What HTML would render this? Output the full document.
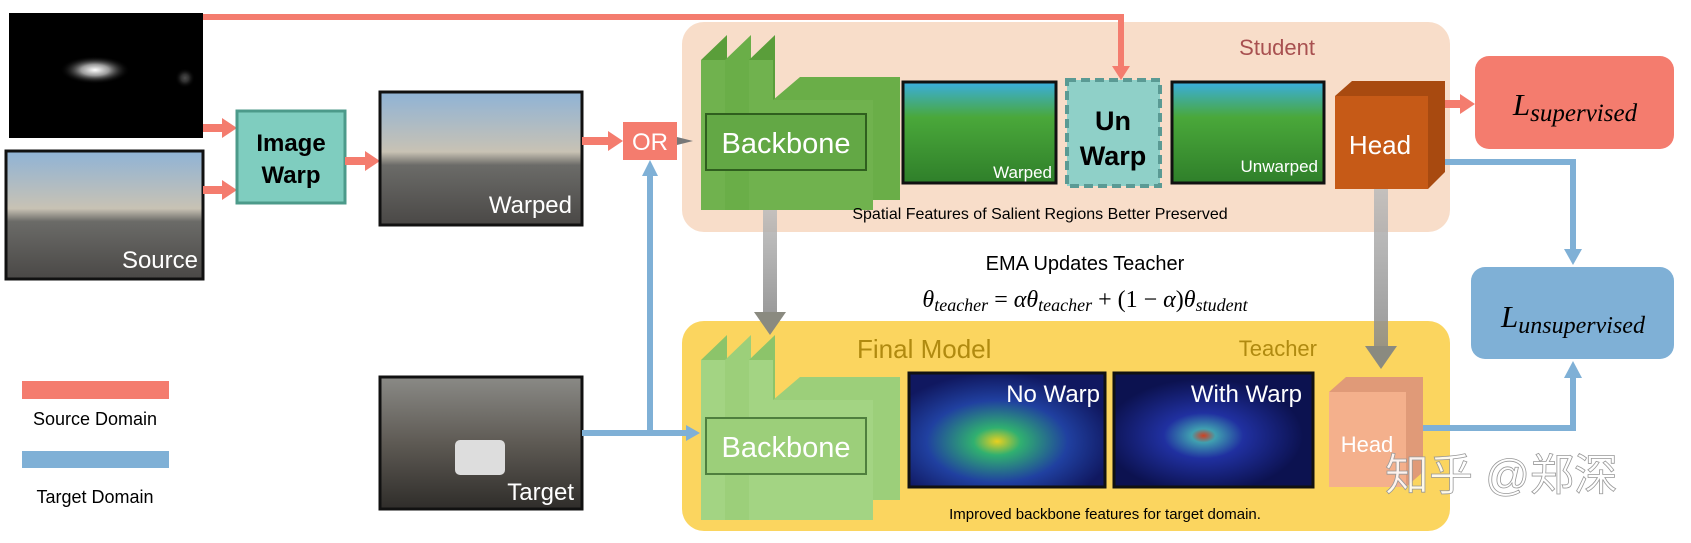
<!DOCTYPE html>
<html><head><meta charset="utf-8"><style>
body{margin:0;background:#fff}
svg{display:block;font-family:"Liberation Sans",sans-serif}
</style></head><body>
<svg width="1691" height="543" viewBox="0 0 1691 543" xmlns="http://www.w3.org/2000/svg">
<defs>
<linearGradient id="sky" x1="0" y1="0" x2="0" y2="1"><stop offset="0" stop-color="#8fb3d6"/><stop offset="0.45" stop-color="#c8c2b4"/><stop offset="0.55" stop-color="#6b6b68"/><stop offset="1" stop-color="#4a4846"/></linearGradient>
<linearGradient id="rain" x1="0" y1="0" x2="0" y2="1"><stop offset="0" stop-color="#8a8a86"/><stop offset="0.5" stop-color="#5e5a54"/><stop offset="1" stop-color="#2f2d2a"/></linearGradient>
<linearGradient id="seg" x1="0" y1="0" x2="0" y2="1"><stop offset="0" stop-color="#3aaee0"/><stop offset="0.35" stop-color="#4aa83a"/><stop offset="1" stop-color="#2f7f2a"/></linearGradient>
<radialGradient id="heat1" cx="0.45" cy="0.6" r="0.6"><stop offset="0" stop-color="#e8d020"/><stop offset="0.2" stop-color="#30b070"/><stop offset="0.6" stop-color="#2040a0"/><stop offset="1" stop-color="#101860"/></radialGradient>
<radialGradient id="heat2" cx="0.45" cy="0.55" r="0.5"><stop offset="0" stop-color="#d04020"/><stop offset="0.12" stop-color="#40a0b0"/><stop offset="0.4" stop-color="#2030a0"/><stop offset="1" stop-color="#0c1250"/></radialGradient>
<radialGradient id="blob" cx="0.5" cy="0.5" r="0.5"><stop offset="0" stop-color="#fff"/><stop offset="0.4" stop-color="#999"/><stop offset="1" stop-color="#000" stop-opacity="0"/></radialGradient>
<linearGradient id="gv" x1="0" y1="0" x2="0" y2="1"><stop offset="0" stop-color="#bbb"/><stop offset="1" stop-color="#888"/></linearGradient>
</defs>

<rect x="682" y="22" width="768" height="210" rx="22" fill="#f8ddc9"/>
<rect x="682" y="321" width="768" height="210" rx="22" fill="#fbd55f"/>

<polyline points="203,17 1121,17 1121,70" fill="none" stroke="#f47c6e" stroke-width="6"/>
<polygon points="1112,66 1130,66 1121,80" fill="#f47c6e"/>

<rect x="9" y="13" width="194" height="125" fill="#000"/>
<ellipse cx="95" cy="70" rx="35" ry="14" fill="url(#blob)"/>
<ellipse cx="185" cy="78" rx="10" ry="10" fill="url(#blob)" opacity="0.3"/>

<rect x="6" y="151" width="197" height="128" fill="url(#sky)" stroke="#111" stroke-width="3"/>
<text x="198" y="268" font-size="24" fill="#fff" text-anchor="end">Source</text>

<rect x="203" y="124" width="22" height="8" fill="#f47c6e"/><polygon points="222,118 237,128 222,138" fill="#f47c6e"/>
<rect x="203" y="186" width="22" height="8" fill="#f47c6e"/><polygon points="222,180 237,190 222,200" fill="#f47c6e"/>
<rect x="237" y="111" width="108" height="92" fill="#7fcdbf" stroke="#4c9a8a" stroke-width="3"/>
<text x="291" y="151" font-size="24" font-weight="bold" text-anchor="middle">Image</text>
<text x="291" y="183" font-size="24" font-weight="bold" text-anchor="middle">Warp</text>
<rect x="345" y="157" width="22" height="8" fill="#f47c6e"/><polygon points="365,151 380,161 365,171" fill="#f47c6e"/>

<rect x="380" y="92" width="202" height="133" fill="url(#sky)" stroke="#111" stroke-width="3"/>
<text x="572" y="213" font-size="24" fill="#fff" text-anchor="end">Warped</text>
<rect x="582" y="137" width="28" height="8" fill="#f47c6e"/><polygon points="608,131 623,141 608,151" fill="#f47c6e"/>
<rect x="623" y="122" width="54" height="38" fill="#f47c6e"/>
<text x="650" y="150" font-size="24" fill="#fff" text-anchor="middle">OR</text>
<polygon points="677,137 693,141 677,145" fill="#777"/>

<rect x="380" y="377" width="202" height="132" fill="url(#rain)" stroke="#111" stroke-width="3"/>
<rect x="455" y="440" width="50" height="35" rx="5" fill="#ddd"/>
<text x="574" y="500" font-size="24" fill="#fff" text-anchor="end">Target</text>
<polyline points="582,433 690,433" fill="none" stroke="#7fb0d6" stroke-width="6"/>
<polygon points="686,425 700,433 686,441" fill="#7fb0d6"/>
<line x1="650" y1="433" x2="650" y2="172" stroke="#7fb0d6" stroke-width="6"/>
<polygon points="642,176 650,160 658,176" fill="#7fb0d6"/>

<rect x="22" y="381" width="147" height="18" fill="#f47c6e"/>
<text x="95" y="425" font-size="18" text-anchor="middle">Source Domain</text>
<rect x="22" y="451" width="147" height="17" fill="#7fb0d6"/>
<text x="95" y="503" font-size="18" text-anchor="middle">Target Domain</text>

<g>
<polygon points="701,60 727,35 727,210 701,210" fill="#5a9e3a"/>
<polygon points="725,60 751,35 751,210 725,210" fill="#6aae48"/>
<polygon points="749,60 775,35 775,210 749,210" fill="#5a9e3a"/>
<polygon points="773,100 800,77 900,77 900,200 800,200 773,210" fill="#6aae48"/>
<rect x="701" y="60" width="24" height="150" fill="#70b24e"/>
<rect x="725" y="60" width="24" height="150" fill="#6aae48"/>
<rect x="749" y="60" width="24" height="150" fill="#70b24e"/>
<rect x="773" y="100" width="100" height="110" fill="#70b24e"/>
<rect x="706" y="114" width="160" height="56" fill="#63a845" stroke="#2f5f1e" stroke-width="2"/>
<text x="786" y="153" font-size="29" fill="#fff" text-anchor="middle">Backbone</text>
</g>

<rect x="903" y="82" width="153" height="101" fill="url(#seg)" stroke="#111" stroke-width="3"/>
<text x="1052" y="178" font-size="17" fill="#fff" text-anchor="end">Warped</text>
<rect x="1067" y="80" width="93" height="106" fill="#8fd0c8" stroke="#5a9a94" stroke-width="4" stroke-dasharray="9,5"/>
<text x="1113" y="130" font-size="27" font-weight="bold" text-anchor="middle">Un</text>
<text x="1113" y="165" font-size="27" font-weight="bold" text-anchor="middle">Warp</text>
<rect x="1172" y="82" width="152" height="101" fill="url(#seg)" stroke="#111" stroke-width="3"/>
<text x="1318" y="172" font-size="17" fill="#fff" text-anchor="end">Unwarped</text>

<polygon points="1335,96 1352,81 1445,81 1445,172 1428,189" fill="#a84a10"/>
<rect x="1335" y="96" width="93" height="93" fill="#c65a17"/>
<text x="1380" y="154" font-size="26" fill="#fff" text-anchor="middle">Head</text>
<text x="1315" y="55" font-size="22" fill="#a85050" text-anchor="end">Student</text>
<text x="1040" y="219" font-size="16" text-anchor="middle">Spatial Features of Salient Regions Better Preserved</text>

<rect x="1445" y="100" width="17" height="8" fill="#f47c6e"/><polygon points="1460,94 1475,104 1460,114" fill="#f47c6e"/>
<rect x="1475" y="56" width="199" height="93" rx="14" fill="#f47c6e"/>
<text x="1575" y="115" font-size="31" font-family="Liberation Serif,serif" font-style="italic" text-anchor="middle">L<tspan font-size="25" dy="6">supervised</tspan></text>
<rect x="1471" y="267" width="203" height="92" rx="14" fill="#7fb0d6"/>
<text x="1573" y="327" font-size="31" font-family="Liberation Serif,serif" font-style="italic" text-anchor="middle">L<tspan font-size="24" dy="6">unsupervised</tspan></text>
<polyline points="1445,162 1573,162 1573,253" fill="none" stroke="#7fb0d6" stroke-width="6"/>
<polygon points="1564,249 1582,249 1573,265" fill="#7fb0d6"/>
<polyline points="1423,428 1573,428 1573,375" fill="none" stroke="#7fb0d6" stroke-width="6"/>
<polygon points="1564,378 1582,378 1573,361" fill="#7fb0d6"/>

<text x="1085" y="270" font-size="20" text-anchor="middle">EMA Updates Teacher</text>
<text x="1085" y="307" font-size="24" font-family="Liberation Serif,serif" font-style="italic" text-anchor="middle">θ<tspan font-size="18" dy="4">teacher</tspan><tspan dy="-4" font-style="normal"> = </tspan>αθ<tspan font-size="18" dy="4">teacher</tspan><tspan dy="-4" font-style="normal"> + (1 − </tspan>α<tspan font-style="normal">)</tspan>θ<tspan font-size="18" dy="4">student</tspan></text>

<rect x="763" y="210" width="14" height="105" fill="url(#gv)" opacity="0.85"/>
<polygon points="754,312 786,312 770,335" fill="#8a8a80"/>
<rect x="1374" y="189" width="14" height="160" fill="url(#gv)" opacity="0.85"/>
<polygon points="1365,346 1397,346 1381,369" fill="#8a8a80"/>

<g>
<polygon points="701,360 727,335 727,520 701,520" fill="#8cc46a"/>
<polygon points="725,360 751,335 751,520 725,520" fill="#9ccf7a"/>
<polygon points="749,360 775,335 775,520 749,520" fill="#8cc46a"/>
<polygon points="773,400 800,377 900,377 900,500 800,500 773,520" fill="#9ccf7a"/>
<rect x="701" y="360" width="24" height="160" fill="#a3d483"/>
<rect x="725" y="360" width="24" height="160" fill="#9ccf7a"/>
<rect x="749" y="360" width="24" height="160" fill="#a3d483"/>
<rect x="773" y="400" width="100" height="120" fill="#a3d483"/>
<rect x="706" y="418" width="160" height="56" fill="#9ccf7a" stroke="#4f7f3e" stroke-width="2"/>
<text x="786" y="457" font-size="29" fill="#fff" text-anchor="middle">Backbone</text>
</g>
<text x="857" y="358" font-size="26" fill="#b08a10">Final Model</text>
<text x="1317" y="356" font-size="22" fill="#b08a10" text-anchor="end">Teacher</text>

<rect x="909" y="373" width="196" height="114" fill="url(#heat1)" stroke="#111" stroke-width="3"/>
<text x="1100" y="402" font-size="24" fill="#fff" text-anchor="end">No Warp</text>
<rect x="1114" y="373" width="199" height="114" fill="url(#heat2)" stroke="#111" stroke-width="3"/>
<text x="1302" y="402" font-size="24" fill="#fff" text-anchor="end">With Warp</text>
<text x="1105" y="519" font-size="15" text-anchor="middle">Improved backbone features for target domain.</text>

<polygon points="1329,392 1346,377 1423,377 1423,472 1406,487" fill="#e09a78"/>
<rect x="1329" y="392" width="77" height="95" fill="#f4b08c"/>
<text x="1367" y="452" font-size="22" fill="#fff" text-anchor="middle">Head</text>

<text x="1385" y="490" font-size="44" fill="#fff" fill-opacity="0.85" stroke="#999" stroke-width="0.8" font-family="'Liberation Sans','Noto Sans CJK SC',sans-serif">知乎 @郑深</text>
</svg>
</body></html>
